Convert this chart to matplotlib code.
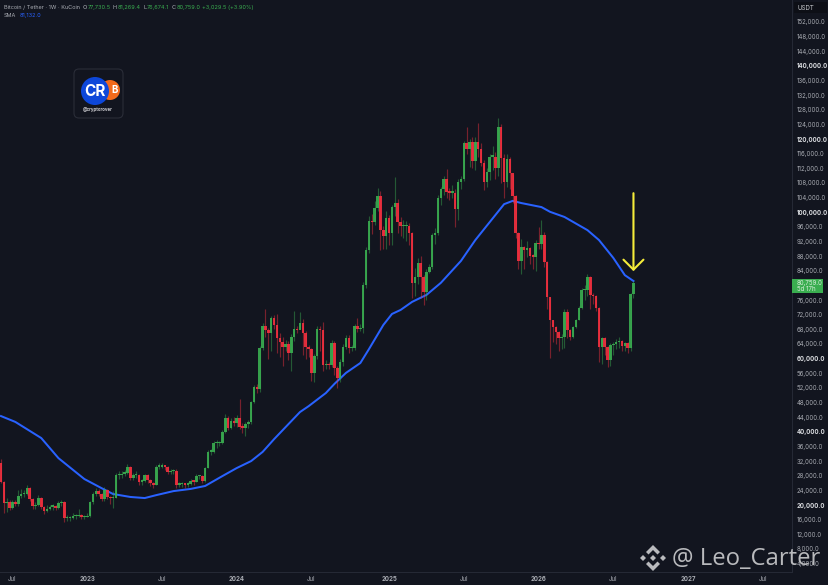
# -*- coding: utf-8 -*-

import numpy as np
import pandas as pd
import matplotlib
matplotlib.use('Agg')
import matplotlib.pyplot as plt
import matplotlib.dates as mdates
from matplotlib.patches import Circle, FancyBboxPatch, Polygon, Rectangle

plt.rcParams['font.family'] = ['Inter', 'DejaVu Sans']

# weekly candles, prices in thousands USDT
first_open = 31.5
closes = [
    26.3, 20.5, 20.8, 19.2, 20.8, 20.3, 22.5, 23.0, 23.0, 24.6,
    21.6, 19.7, 20.0, 21.9, 19.5, 18.4, 19.0, 19.5, 19.5, 19.2,
    20.5, 20.8, 16.4, 16.4, 16.4, 17.0, 17.0, 17.3, 16.7, 16.7,
    17.0, 20.8, 23.0, 23.8, 23.0, 21.6, 24.2, 22.2, 21.9, 21.9,
    28.2, 28.2, 28.5, 28.8, 30.4, 27.4, 28.2, 28.2, 26.3, 26.6,
    28.2, 26.8, 26.0, 25.5, 30.4, 30.4, 30.7, 30.4, 29.0, 29.3,
    29.3, 25.5, 25.7, 25.7, 25.5, 25.7, 26.6, 26.3, 27.9, 27.9,
    26.6, 30.1, 34.5, 34.5, 36.9, 36.9, 36.9, 39.9, 43.8, 41.1,
    43.0, 42.4, 43.8, 41.3, 41.1, 42.1, 42.7, 48.1, 52.2, 51.7,
    62.9, 68.9, 67.8, 67.0, 71.1, 69.2, 65.6, 64.6, 63.2, 64.0,
    61.5, 65.9, 68.1, 67.8, 69.7, 67.0, 63.2, 62.6, 56.1, 60.7,
    68.1, 67.8, 58.2, 58.5, 58.2, 64.3, 57.4, 54.7, 59.1, 63.2,
    65.6, 62.9, 62.9, 68.9, 68.1, 68.4, 80.1, 89.7, 97.6, 97.3,
    101.1, 104.4, 95.1, 93.5, 98.4, 94.3, 101.4, 102.5, 97.3, 96.2,
    96.2, 96.2, 94.3, 80.7, 82.3, 86.1, 82.3, 78.2, 83.6, 85.0,
    93.8, 94.3, 103.9, 106.3, 109.1, 105.5, 105.3, 105.3, 100.9, 108.3,
    109.1, 118.9, 117.3, 119.2, 114.0, 119.2, 117.3, 113.5, 108.3, 111.0,
    115.1, 115.1, 112.1, 123.3, 114.8, 108.3, 114.6, 110.7, 104.4, 94.3,
    86.7, 90.5, 89.7, 90.2, 88.0, 87.8, 91.6, 91.3, 93.8, 86.4,
    76.8, 70.6, 68.6, 67.3, 65.6, 65.9, 72.7, 67.8, 65.9, 68.6,
    70.6, 73.8, 78.7, 78.7, 82.3, 77.4, 77.1, 73.8, 63.2, 65.6,
    63.2, 59.6, 63.7, 64.0, 64.5, 64.8, 63.5, 64.3, 62.9, 77.7,
    80.759,
]
highs = [
    32.5, 26.6, 21.8, 21.3, 21.3, 21.5, 24.0, 24.5, 24.0, 25.6,
    25.0, 21.9, 20.8, 22.6, 22.2, 19.8, 19.9, 20.0, 20.2, 20.0,
    21.2, 21.5, 21.0, 17.2, 17.1, 17.8, 17.6, 18.8, 17.6, 17.2,
    17.7, 21.2, 23.5, 24.6, 24.3, 23.3, 24.8, 24.5, 22.5, 23.8,
    28.8, 29.4, 29.3, 29.6, 31.2, 30.6, 28.8, 29.2, 28.4, 27.2,
    28.6, 28.6, 27.0, 26.2, 31.0, 31.6, 31.5, 30.9, 30.6, 29.8,
    29.9, 29.8, 26.4, 26.3, 26.1, 26.3, 27.1, 26.8, 28.4, 28.3,
    28.2, 30.5, 35.0, 35.2, 37.4, 37.8, 37.6, 40.4, 44.8, 44.2,
    43.7, 44.0, 44.6, 49.0, 42.5, 42.6, 43.2, 48.5, 52.8, 53.0,
    63.4, 69.6, 73.6, 68.4, 71.6, 72.0, 72.3, 67.0, 65.8, 65.2,
    64.8, 66.6, 73.0, 69.0, 72.8, 70.8, 67.6, 63.6, 62.9, 61.2,
    68.8, 69.0, 70.0, 59.6, 59.2, 65.0, 64.7, 58.0, 60.0, 64.0,
    66.4, 66.4, 63.6, 69.4, 71.0, 69.4, 80.8, 90.4, 99.0, 99.4,
    103.0, 106.6, 105.8, 96.2, 100.2, 99.2, 101.9, 109.6, 103.6, 98.8,
    98.0, 97.6, 97.0, 94.5, 84.8, 87.4, 88.0, 82.8, 84.6, 85.8,
    94.4, 95.8, 104.6, 106.9, 110.0, 111.8, 106.6, 107.4, 106.4, 109.0,
    110.0, 119.5, 123.3, 120.0, 120.5, 120.5, 124.4, 118.8, 114.2, 112.0,
    115.8, 118.0, 116.5, 125.8, 124.0, 116.0, 116.0, 115.0, 110.5, 104.8,
    94.6, 92.8, 90.8, 92.0, 90.5, 88.6, 92.3, 96.0, 97.9, 94.5,
    86.8, 76.8, 70.6, 68.8, 67.6, 66.6, 73.5, 73.5, 68.2, 68.9,
    70.9, 74.4, 79.2, 80.2, 83.0, 82.6, 77.8, 77.3, 74.0, 65.8,
    65.8, 63.4, 64.2, 64.6, 65.4, 66.0, 65.2, 64.6, 64.5, 78.0,
    81.269,
]
lows = [
    26.0, 17.8, 18.0, 18.6, 19.0, 19.8, 19.8, 21.8, 22.2, 22.6,
    21.0, 18.8, 18.8, 19.8, 18.8, 17.6, 18.0, 18.6, 18.6, 18.6,
    19.0, 19.8, 15.4, 15.6, 15.5, 16.2, 16.2, 16.8, 16.2, 16.2,
    16.6, 16.6, 20.4, 22.4, 22.4, 21.0, 21.2, 21.6, 20.2, 19.2,
    21.8, 27.2, 27.4, 27.8, 28.5, 26.8, 26.8, 27.4, 25.6, 25.4,
    26.4, 26.0, 25.2, 24.7, 25.4, 29.8, 30.0, 29.6, 28.6, 28.6,
    28.6, 24.6, 24.8, 25.0, 24.6, 25.0, 25.4, 25.6, 26.2, 27.0,
    26.0, 26.4, 30.0, 33.6, 34.2, 35.6, 36.0, 36.6, 39.6, 40.4,
    40.8, 41.6, 41.4, 40.9, 39.6, 38.9, 41.0, 42.0, 47.8, 50.6,
    51.0, 62.4, 66.0, 60.0, 62.2, 68.0, 61.4, 60.4, 58.0, 62.0,
    59.5, 56.6, 64.8, 67.0, 68.0, 61.0, 60.0, 60.4, 54.0, 53.6,
    60.0, 62.0, 56.6, 57.2, 57.2, 57.6, 55.6, 52.0, 53.6, 58.0,
    62.6, 61.6, 62.0, 62.4, 67.4, 67.6, 67.0, 79.4, 88.8, 94.0,
    96.4, 100.4, 89.8, 90.0, 90.0, 91.0, 91.0, 99.0, 94.4, 93.6,
    93.0, 92.0, 91.0, 76.6, 77.0, 80.4, 76.6, 74.6, 76.0, 83.4,
    84.6, 91.2, 93.8, 102.0, 104.6, 104.0, 103.4, 104.0, 96.0, 97.8,
    106.4, 108.4, 115.8, 112.4, 112.0, 111.5, 115.0, 112.5, 106.0, 107.0,
    108.8, 111.6, 109.0, 110.0, 108.0, 103.8, 107.0, 106.4, 102.6, 93.0,
    84.5, 83.0, 84.5, 87.8, 85.8, 84.6, 84.0, 90.0, 90.0, 85.0,
    73.5, 60.3, 64.5, 64.0, 62.0, 62.5, 63.0, 65.5, 65.0, 65.5,
    68.5, 70.5, 73.5, 76.0, 77.0, 73.5, 75.0, 73.0, 59.0, 58.5,
    61.0, 57.7, 58.0, 61.0, 62.5, 63.0, 62.0, 62.0, 61.5, 62.0,
    76.674,
]

# simple moving average, sampled at some candle numbers
sma_weeks = [0, 5, 14, 20, 29, 35, 39, 45, 50, 54, 60, 66, 71, 77, 82, 87, 91, 95,
             104, 107, 113, 116, 120, 125, 128, 133, 136, 139, 143, 148, 153, 160,
             165, 170, 175, 178, 181, 188, 191, 196, 204, 208, 213, 217, 220]
sma_values = [44.3, 42.7, 38.3, 32.8, 27.1, 24.6, 23.0, 22.2, 21.9, 22.7, 23.8, 24.4,
              25.2, 27.9, 30.1, 32.0, 34.5, 38.0, 45.4, 47.0, 50.6, 53.1, 56.1, 58.8,
              62.6, 69.2, 72.2, 73.3, 75.5, 77.4, 80.7, 86.7, 92.4, 97.3, 102.2, 103.1,
              102.5, 101.4, 100.1, 98.7, 95.1, 92.4, 87.5, 82.8, 81.2]

# 80,000 sits under the last price tag
price_ticks = [p for p in range(4, 153, 4) if p != 80]
date_ticks = ['2022-07-04', '2023-01-02', '2023-07-03', '2024-01-01', '2024-07-01', '2025-01-06',
              '2025-07-07', '2026-01-05', '2026-07-06', '2027-01-04', '2027-07-05']
date_labels = ['Jul', '2023', 'Jul', '2024', 'Jul', '2025', 'Jul', '2026', 'Jul', '2027', 'Jul']

BG = '#12151f'
GREEN = '#3aae50'
RED = '#f5303f'
BLUE = '#2962ff'
TEXT = '#a9acb3'

closes = np.array(closes)
highs = np.array(highs)
lows = np.array(lows)
opens = np.r_[first_open, closes[:-1]]
weeks = pd.date_range(end='2026-08-24', periods=len(closes), freq='7D')
x = mdates.date2num(weeks)
colors = [GREEN if c >= o else RED for o, c in zip(opens, closes)]

fig = plt.figure(figsize=(8.29, 5.85), dpi=100, facecolor=BG)
ax = fig.add_axes([0, 13 / 585, 792 / 829, 572 / 585], facecolor=BG)

ax.plot(x[sma_weeks], sma_values, color=BLUE, lw=1.45, zorder=1, solid_joinstyle='round')
ax.vlines(x, lows, highs, colors=colors, lw=0.85, alpha=0.45, zorder=2)
body_low = np.minimum(opens, closes)
body_h = np.maximum(np.abs(closes - opens), 0.4)
ax.bar(x, body_h, width=6.2, bottom=body_low, color=colors, linewidth=0, alpha=0.9, zorder=3)

ax.annotate('', xy=(x[-1], 83.9), xytext=(x[-1], 105.2), zorder=5,
            arrowprops=dict(arrowstyle='->,head_length=0.36,head_width=0.36', color='#f5ec3a',
                            lw=1.5, mutation_scale=20, shrinkA=0, shrinkB=0))

ax.set_xlim(x[0] - 2.4, x[0] - 2.4 + 792 / 0.4107)
ax.set_ylim(157.98 - 572 * 0.27322, 157.98)

ax.yaxis.tick_right()
ax.set_yticks(price_ticks)
ax.set_yticklabels(['%s.0' % format(p * 1000, ',') for p in price_ticks])
for p, lab in zip(price_ticks, ax.get_yticklabels()):
    if p % 20 == 0:
        lab.set_fontweight('bold')
        lab.set_color('#d6d8dc')
    else:
        lab.set_color(TEXT)
    lab.set_fontsize(4.4)
ax.set_xticks(mdates.date2num(pd.to_datetime(date_ticks)))
ax.set_xticklabels(date_labels)
for lab, txt in zip(ax.get_xticklabels(), date_labels):
    lab.set_fontsize(4.4)
    lab.set_color(TEXT)
    if txt != 'Jul':
        lab.set_fontweight('bold')
ax.tick_params(axis='both', length=0)
ax.tick_params(axis='y', pad=3.6)
ax.tick_params(axis='x', pad=3)
for s in ['top', 'left']:
    ax.spines[s].set_visible(False)
for s in ['right', 'bottom']:
    ax.spines[s].set_color('#262a36')
    ax.spines[s].set_linewidth(0.7)

# overlay in pixels for the header, price tags, logo and watermark
ov = fig.add_axes([0, 0, 1, 1], facecolor='none')
ov.set_xlim(0, 829)
ov.set_ylim(585, 0)
ov.axis('off')

header = [(4, 'Bitcoin / Tether · 1W · KuCoin', TEXT), (83, 'O', TEXT), (87.5, '77,730.5', GREEN),
          (113, 'H', TEXT), (117.5, '81,269.4', GREEN), (143.5, 'L', TEXT), (147, '76,674.1', GREEN),
          (172, 'C', TEXT), (176.5, '80,759.0', GREEN), (202.5, '+3,029.5 (+3.90%)', GREEN)]
for hx, txt, col in header:
    ov.text(hx, 7.5, txt, color=col, fontsize=4.0, va='center')
ov.text(4, 15.5, 'SMA', color=TEXT, fontsize=4.0, va='center')
ov.text(19.5, 15.5, '81,132.0', color=BLUE, fontsize=4.0, va='center')

ov.add_patch(Rectangle((794, 2), 33, 11, color='#0d0f16', lw=0))
ov.text(798, 7.5, 'USDT', color='#c6c8cc', fontsize=4.4, va='center')

ov.add_patch(Rectangle((792, 279), 31, 14, color=GREEN, lw=0))
ov.text(797, 282.8, '80,759.0', color='#d8eedb', fontsize=4.4, va='center')
ov.text(797, 289.2, '5d 17h', color='#d8eedb', fontsize=4.4, va='center')

# logo
ov.add_patch(FancyBboxPatch((74, 69), 49, 49, boxstyle='round,pad=0,rounding_size=5',
                            fc='#12151f', ec='#2a2d38', lw=0.8))
ov.add_patch(Circle((110, 90), 10, color='#f26a1b', lw=0, zorder=3))
ov.text(114.5, 90, 'B', color='white', fontsize=7, fontweight='bold', ha='center', va='center', zorder=4)
ov.add_patch(Circle((95, 91), 14, color='#0d47d9', lw=0, zorder=5))
ov.text(95, 91, 'CR', color='white', fontsize=11, fontweight='bold', ha='center', va='center', zorder=6)
ov.text(98, 110, '@cryptorover', color='#c8c8cc', fontsize=3.2, fontweight='bold', ha='center', va='center')

# watermark
wm = '#b9babd'
cx, cy = 653, 558
for dx, dy, r in [(0, 0, 3), (-10, 0, 3), (10, 0, 3)]:
    ov.add_patch(Polygon([(cx + dx - r, cy + dy), (cx + dx, cy + dy - r), (cx + dx + r, cy + dy), (cx + dx, cy + dy + r)],
                         color=wm, lw=0, zorder=7))
ov.add_patch(Polygon([(cx, cy - 13), (cx + 7, cy - 6), (cx + 4.5, cy - 3.5), (cx, cy - 8),
                      (cx - 4.5, cy - 3.5), (cx - 7, cy - 6)], color=wm, lw=0, zorder=7))
ov.add_patch(Polygon([(cx, cy + 13), (cx + 7, cy + 6), (cx + 4.5, cy + 3.5), (cx, cy + 8),
                      (cx - 4.5, cy + 3.5), (cx - 7, cy + 6)], color=wm, lw=0, zorder=7))
ov.text(672.5, 559, '@ Leo_Carter', color=wm, fontsize=17.2, family='Open Sans', va='center', zorder=7)

fig.savefig('out.png', dpi=100, facecolor=BG)
